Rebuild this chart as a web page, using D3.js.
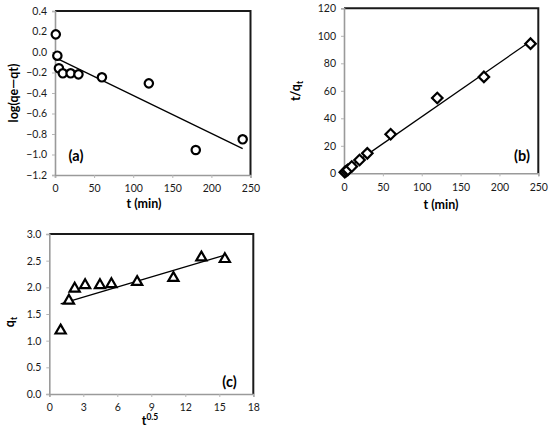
<!DOCTYPE html>
<html><head><meta charset="utf-8">
<script src="https://cdn.jsdelivr.net/npm/d3@7"></script>
<style>
body{margin:0;background:#fff;}
text{font-family:Lato,"Liberation Sans",sans-serif;}
</style></head>
<body><svg id="c" width="550" height="435"></svg>
<script>
// ---- data ----
const tMin = [1, 3, 5, 10, 20, 30, 60, 120, 180, 240];
const logQeQt = [0.172, -0.036, -0.159, -0.208, -0.208, -0.218, -0.247, -0.306, -0.956, -0.852];
const tOverQt = [0.85, 1.7, 2.5, 4.9, 9.7, 14.5, 28.4, 54.8, 70.1, 94.3];
const sqrtT = [1, 1.73, 2.24, 3.16, 4.47, 5.48, 7.75, 10.95, 13.42, 15.49];
const qt = [1.19, 1.75, 1.975, 2.04, 2.04, 2.06, 2.10, 2.175, 2.56, 2.53];
const ticksA_x = [0, 50, 100, 150, 200, 250];
const ticksA_y = [-1.2, -1.0, -0.8, -0.6, -0.4, -0.2, 0.0, 0.2, 0.4];
const ticksB_x = [0, 50, 100, 150, 200, 250];
const ticksB_y = [0, 20, 40, 60, 80, 100, 120];
const ticksC_x = [0, 3, 6, 9, 12, 15, 18];
const ticksC_y = [0, 0.5, 1.0, 1.5, 2.0, 2.5, 3.0];

const svg = d3.select("#c");

function fit(xs, ys){
  const mx = d3.mean(xs), my = d3.mean(ys);
  let sxy = 0, sxx = 0;
  xs.forEach((x,i)=>{sxy += (x-mx)*(ys[i]-my); sxx += (x-mx)*(x-mx);});
  const b = sxy/sxx, a = my - b*mx;
  return x => a + b*x;
}

function panel(o){
  const g = svg.append("g");
  const x = d3.scaleLinear().domain(o.xd).range([o.l, o.r]);
  const y = d3.scaleLinear().domain(o.yd).range([o.b, o.t]);
  g.append("path").attr("d", `M${o.l},${o.t}H${o.r}V${o.b}`)
    .attr("fill","none").attr("stroke","#1a1a1a").attr("stroke-width",2);
  const ax = g.append("g").attr("transform",`translate(0,${o.b})`)
    .call(d3.axisBottom(x).tickValues(o.xt).tickSize(3).tickPadding(7).tickFormat(d3.format("d")));
  const ay = g.append("g").attr("transform",`translate(${o.l},0)`)
    .call(d3.axisLeft(y).tickValues(o.yt).tickSize(3).tickPadding(5).tickFormat(d3.format(o.yf)));
  [ax, ay].forEach(a=>{
    a.select(".domain").attr("stroke","#9a9a9a").attr("stroke-width",1.6);
    a.selectAll(".tick line").attr("stroke","#b5b5b5");
    a.selectAll(".tick text").attr("font-size",10.5).attr("fill","#1a1a1a");
  });
  const f = fit(o.xs, o.ys);
  const x0 = d3.min(o.xs), x1 = d3.max(o.xs);
  g.append("line").attr("x1",x(x0)).attr("y1",y(f(x0))).attr("x2",x(x1)).attr("y2",y(f(x1)))
    .attr("stroke","#000").attr("stroke-width",1.3);
  const sym = d3.symbol().type(o.sym).size(o.size);
  g.selectAll("path.m").data(o.xs).enter().append("path").attr("class","m")
    .attr("d", sym)
    .attr("transform",(d,i)=>`translate(${x(d)},${y(o.ys[i])})${o.rot||""}`)
    .attr("fill","#fff").attr("stroke","#000").attr("stroke-width",2.2);
  g.append("text").attr("x",o.tag[0]).attr("y",o.tag[1]).attr("text-anchor","middle")
    .attr("font-size",14.5).attr("font-weight","bold").text(o.tagText);
  return g;
}

const gA = panel({l:55,r:250.5,t:11,b:175,xd:[0,250],yd:[-1.2,0.4],xt:ticksA_x,yt:ticksA_y,yf:".1f",
  xs:tMin,ys:logQeQt,sym:d3.symbolCircle,size:55,tag:[76,161],tagText:"(a)"});
gA.append("text").attr("x",144).attr("y",208).attr("text-anchor","middle")
  .attr("font-size",12.5).attr("font-weight","bold").text("t (min)");
gA.append("text").attr("transform","translate(18,93) rotate(-90)").attr("text-anchor","middle")
  .attr("font-size",12.5).attr("font-weight","bold").text("log(qe\u2014qt)");

const gB = panel({l:344,r:538.3,t:8.3,b:173.3,xd:[0,250],yd:[0,120],xt:ticksB_x,yt:ticksB_y,yf:"d",
  xs:tMin,ys:tOverQt,sym:d3.symbolSquare,size:55,rot:" rotate(45)",tag:[522,161],tagText:"(b)"});
gB.append("text").attr("x",441).attr("y",209).attr("text-anchor","middle")
  .attr("font-size",12.5).attr("font-weight","bold").text("t (min)");
const yb = gB.append("text").attr("transform","translate(300,91) rotate(-90)").attr("text-anchor","middle")
  .attr("font-size",12.5).attr("font-weight","bold");
yb.append("tspan").text("t/q");
yb.append("tspan").attr("font-size",8.5).attr("dy",3).text("t");

const gC = panel({l:49.3,r:253.3,t:234,b:394,xd:[0,18],yd:[0,3],xt:ticksC_x,yt:ticksC_y,yf:".1f",
  xs:sqrtT,ys:qt,sym:d3.symbolTriangle,size:45,tag:[229.5,387],tagText:"(c)"});
const xc = gC.append("text").attr("x",150).attr("y",425).attr("text-anchor","middle")
  .attr("font-size",12.5).attr("font-weight","bold");
xc.append("tspan").text("t");
xc.append("tspan").attr("font-size",8.5).attr("dy",-5).text("0.5");
const yc = gC.append("text").attr("transform","translate(14,322) rotate(-90)").attr("text-anchor","middle")
  .attr("font-size",12.5).attr("font-weight","bold");
yc.append("tspan").text("q");
yc.append("tspan").attr("font-size",8.5).attr("dy",3).text("t");
</script></body></html>
